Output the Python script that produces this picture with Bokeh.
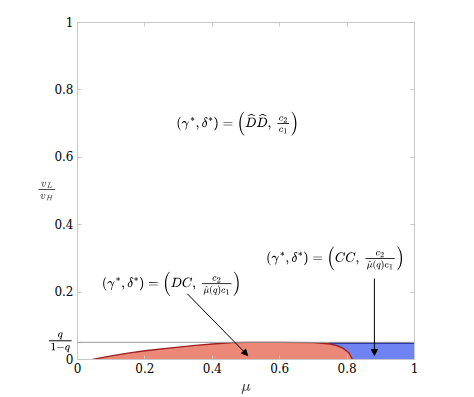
from bokeh.plotting import figure
from bokeh.models import Label, Arrow, NormalHead, LinearAxis, FixedTicker, Span
from bokeh.embed import file_html
from bokeh.resources import INLINE

# data
mu_red = [0.045, 0.1, 0.15, 0.2, 0.3, 0.35, 0.4, 0.46, 0.5, 0.6, 0.7, 0.75, 0.77, 0.79, 0.805, 0.816]
v_red = [0.0, 0.011, 0.019, 0.026, 0.037, 0.042, 0.046, 0.05, 0.051, 0.051, 0.05, 0.046, 0.041, 0.032, 0.02, 0.0]
mu_blue = [0.745, 1.0]
v_blue = [0.049, 0.049]
q_ratio = 0.051
x_ticks = [0, 0.2, 0.4, 0.6, 0.8, 1]
y_ticks = [0, 0.051, 0.2, 0.4, 0.6, 0.8, 1]
y_tick_labels = {0: "0", 0.051: r"$$\tfrac{q}{1-q}$$", 0.2: "0.2", 0.4: "0.4", 0.6: "0.6", 0.8: "0.8", 1: "1"}
x_tick_labels = {0: "0", 0.2: "0.2", 0.4: "0.4", 0.6: "0.6", 0.8: "0.8", 1: "1"}

FONT = "DejaVu Serif"
GRID = "#c8c8c8"

p = figure(frame_width=337, frame_height=337, x_range=(0, 1), y_range=(0, 1),
           output_backend="svg", toolbar_location=None,
           min_border_left=77, min_border_right=40, min_border_top=22, min_border_bottom=0)
p.outline_line_color = GRID
p.xgrid.visible = False
p.ygrid.visible = False

for ax in (p.xaxis[0], p.yaxis[0]):
    ax.axis_line_color = GRID
    ax.major_tick_line_color = GRID
    ax.major_tick_in = 4
    ax.major_tick_out = 0
    ax.minor_tick_line_color = None
    ax.major_label_text_font = FONT
    ax.major_label_text_font_size = "12px"
    ax.major_label_text_color = "black"
    ax.axis_label_text_font_size = "13px"
p.xaxis.ticker = FixedTicker(ticks=x_ticks)
p.yaxis.ticker = FixedTicker(ticks=y_ticks)
p.xaxis.major_label_overrides = x_tick_labels
p.yaxis.major_label_overrides = y_tick_labels
p.xaxis.axis_label = r"$$\mu$$"
p.xaxis.axis_label_standoff = 8
p.xaxis.major_label_standoff = 3
p.yaxis.major_label_standoff = 4
p.yaxis.axis_label = r"$$\tfrac{v_L}{v_H}$$"
p.yaxis.axis_label_orientation = "horizontal"
p.yaxis.axis_label_standoff = -13

for loc in ("right", "above"):
    a = LinearAxis(ticker=FixedTicker(ticks=x_ticks if loc == "above" else y_ticks))
    a.axis_line_color = GRID
    a.major_tick_line_color = GRID
    a.major_tick_in = 4
    a.major_tick_out = 0
    a.minor_tick_line_color = None
    a.major_label_text_font_size = "0px"
    a.major_label_standoff = 0
    a.major_label_text_color = None
    p.add_layout(a, loc)

# blue region
p.varea(x=mu_blue, y1=[0, 0], y2=v_blue, fill_color="#6f84f2")
p.line(x=mu_blue, y=v_blue, line_color="#1c1c8c", line_width=1.5)
# red region
p.varea(x=mu_red, y1=[0] * len(mu_red), y2=v_red, fill_color="#ec8878")
p.line(x=mu_red, y=v_red, line_color="#9c1f1f", line_width=1.3)

p.add_layout(Span(location=q_ratio, dimension="width", line_color="#999999", line_width=1))

labels = [
    (0.475, 0.70, r"$$(\gamma^*,\delta^*) = \left(\widehat{D}\widehat{D},\, \tfrac{c_2}{c_1}\right)$$"),
    (0.279, 0.225, r"$$(\gamma^*,\delta^*) = \left(DC,\, \tfrac{c_2}{\hat{\mu}(q)c_1}\right)$$"),
    (0.765, 0.30, r"$$(\gamma^*,\delta^*) = \left(CC,\, \tfrac{c_2}{\hat{\mu}(q)c_1}\right)$$"),
]
for x, y, t in labels:
    p.add_layout(Label(x=x, y=y, text=t, text_align="center", text_baseline="middle",
                       text_font_size="11px", text_color="black"))

p.add_layout(Arrow(x_start=0.326, y_start=0.195, x_end=0.505, y_end=0.012,
                   line_color="black", line_width=1,
                   end=NormalHead(size=6, fill_color="black", line_color="black")))
p.add_layout(Arrow(x_start=0.881, y_start=0.24, x_end=0.881, y_end=0.012,
                   line_color="black", line_width=1,
                   end=NormalHead(size=6, fill_color="black", line_color="black")))

open("out.html", "w").write(file_html(p, INLINE))
